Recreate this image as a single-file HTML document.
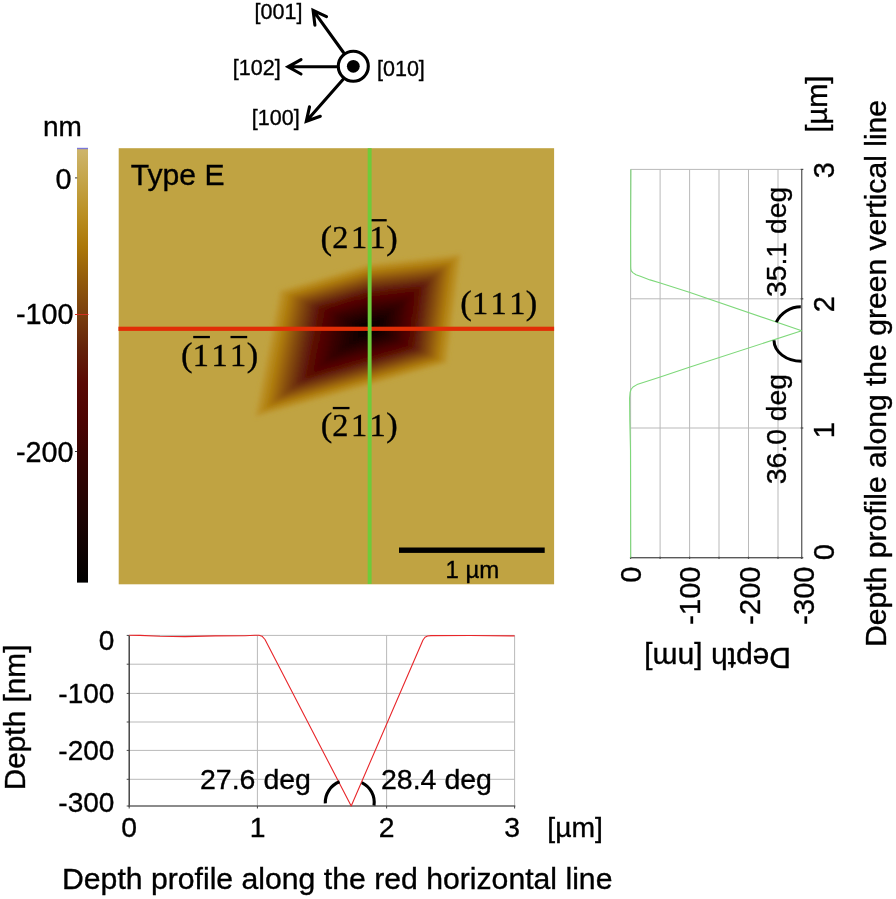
<!DOCTYPE html>
<html lang="en"><head><meta charset="utf-8"><title>AFM Type E etch pit depth profiles</title>
<style>html,body{margin:0;padding:0;background:#fff}body{width:896px;height:899px;overflow:hidden}svg{display:block}text{stroke:#000;stroke-width:.35px}</style>
</head><body>
<svg width="896" height="899" viewBox="0 0 896 899" font-family="'Liberation Sans', Arial, sans-serif" fill="#000">
<defs>
<linearGradient id="cb" x1="0" y1="0" x2="0" y2="1"><stop offset="0.0008" stop-color="#ceb56c"/><stop offset="0.0671" stop-color="#c5a64c"/><stop offset="0.1523" stop-color="#ba8f22"/><stop offset="0.2249" stop-color="#ac7808"/><stop offset="0.3039" stop-color="#925a0a"/><stop offset="0.3828" stop-color="#793e0e"/><stop offset="0.4617" stop-color="#64220a"/><stop offset="0.5407" stop-color="#5a0904"/><stop offset="0.6259" stop-color="#4c0302"/><stop offset="0.6985" stop-color="#3a0403"/><stop offset="0.8564" stop-color="#1c0403"/><stop offset="1.0000" stop-color="#000000"/></linearGradient>
<filter id="bl" x="-20%" y="-20%" width="140%" height="140%"><feGaussianBlur stdDeviation="2.1"/></filter>
<clipPath id="ic"><rect x="118.7" y="148.2" width="435.40000000000003" height="436.09999999999997"/></clipPath>
</defs>
<rect width="896" height="899" fill="#fff"/>
<path d="M343.5 52.5L313.1 10.3M326.5 16.6L313.1 10.3L314.9 25.1" fill="none" stroke="#000" stroke-width="3.1" stroke-linecap="round" stroke-linejoin="miter"/>
<path d="M338.0 66.8L288.0 66.8M301.0 59.6L288.0 66.8L301.0 74.0" fill="none" stroke="#000" stroke-width="3.1" stroke-linecap="round" stroke-linejoin="miter"/>
<path d="M343.0 79.5L306.3 121.3M309.5 106.8L306.3 121.3L320.3 116.3" fill="none" stroke="#000" stroke-width="3.1" stroke-linecap="round" stroke-linejoin="miter"/>
<circle cx="353.3" cy="66.3" r="15.0" fill="#fff" stroke="#000" stroke-width="3.1"/>
<circle cx="353.3" cy="66.3" r="6.4" fill="#000"/>
<text x="254.6" y="18.7" font-size="21.5">[001]</text>
<text x="232.8" y="75.4" font-size="21.5">[102]</text>
<text x="251.8" y="124.7" font-size="21.5">[100]</text>
<text x="377" y="75.6" font-size="21.5">[010]</text>
<rect x="77" y="148.7" width="11" height="433.90000000000003" fill="url(#cb)"/>
<rect x="77" y="147.8" width="11" height="1.4" fill="#7b78d8"/>
<text x="43" y="135.7" font-size="28">nm</text>
<text x="71.6" y="189.2" font-size="28.8" text-anchor="end">0</text>
<text x="73.6" y="324.2" font-size="28.8" text-anchor="end">-100</text>
<text x="73.6" y="461.6" font-size="28.8" text-anchor="end">-200</text>
<rect x="75" y="177.4" width="2.2" height="1" fill="#333"/>
<rect x="75" y="314" width="13.5" height="1" fill="#d03020"/>
<rect x="75" y="451" width="2.2" height="1" fill="#333"/>
<rect x="118.7" y="148.2" width="435.40000000000003" height="436.09999999999997" fill="#c0a342"/>
<g clip-path="url(#ic)"><g filter="url(#bl)">
<polygon points="279.7,290.7 369.5,264.4 461.0,254.2 446.8,363.1 255.0,416.9" fill="#be9833"/>
<polygon points="281.0,291.2 369.5,265.3 459.7,255.3 445.7,362.6 256.6,415.6" fill="#bd952d"/>
<polygon points="282.2,291.8 369.5,266.3 458.4,256.4 444.6,362.1 258.2,414.3" fill="#bb9126"/>
<polygon points="283.5,292.3 369.5,267.2 457.0,257.4 443.5,361.6 259.9,413.1" fill="#b98e21"/>
<polygon points="284.8,292.9 369.5,268.1 455.7,258.5 442.4,361.1 261.5,411.8" fill="#b78a1c"/>
<polygon points="286.1,293.4 369.5,269.0 454.4,259.5 441.3,360.6 263.2,410.6" fill="#b48618"/>
<polygon points="287.4,293.9 369.5,269.9 453.1,260.6 440.2,360.1 264.8,409.3" fill="#b28213"/>
<polygon points="288.7,294.5 369.5,270.8 451.8,261.7 439.1,359.7 266.4,408.0" fill="#af7e0e"/>
<polygon points="290.0,295.0 369.5,271.8 450.5,262.7 438.0,359.2 268.1,406.8" fill="#ad7a0a"/>
<polygon points="291.3,295.6 369.5,272.7 449.2,263.8 436.9,358.7 269.7,405.5" fill="#a97508"/>
<polygon points="292.6,296.1 369.5,273.6 447.9,264.9 435.8,358.2 271.4,404.3" fill="#a57009"/>
<polygon points="293.8,296.7 369.5,274.5 446.6,265.9 434.7,357.7 273.0,403.0" fill="#a16b09"/>
<polygon points="295.1,297.2 369.5,275.4 445.3,267.0 433.6,357.2 274.6,401.7" fill="#9d6609"/>
<polygon points="296.4,297.7 369.5,276.3 444.0,268.0 432.5,356.7 276.3,400.5" fill="#996209"/>
<polygon points="297.7,298.3 369.6,277.3 442.7,269.1 431.4,356.2 277.9,399.2" fill="#945d0a"/>
<polygon points="299.0,298.8 369.6,278.2 441.4,270.2 430.3,355.7 279.6,398.0" fill="#90580a"/>
<polygon points="300.3,299.4 369.6,279.1 440.1,271.2 429.2,355.2 281.2,396.7" fill="#8c530b"/>
<polygon points="301.6,299.9 369.6,280.0 438.8,272.3 428.1,354.7 282.8,395.4" fill="#884f0c"/>
<polygon points="302.9,300.4 369.6,280.9 437.5,273.4 427.0,354.2 284.5,394.2" fill="#844a0c"/>
<polygon points="304.1,301.0 369.6,281.8 436.2,274.4 425.9,353.7 286.1,392.9" fill="#80460d"/>
<polygon points="305.4,301.5 369.6,282.8 434.9,275.5 424.8,353.2 287.8,391.7" fill="#7c410e"/>
<polygon points="306.7,302.1 369.6,283.7 433.6,276.5 423.7,352.8 289.4,390.4" fill="#783d0e"/>
<polygon points="308.0,302.6 369.6,284.6 432.3,277.6 422.6,352.3 291.0,389.1" fill="#75380d"/>
<polygon points="309.3,303.2 369.6,285.5 431.0,278.7 421.5,351.8 292.7,387.9" fill="#71340d"/>
<polygon points="310.6,303.7 369.6,286.4 429.7,279.7 420.4,351.3 294.3,386.6" fill="#6e2f0c"/>
<polygon points="311.9,304.2 369.6,287.3 428.4,280.8 419.3,350.8 296.0,385.3" fill="#6a2a0b"/>
<polygon points="313.2,304.8 369.6,288.3 427.1,281.9 418.2,350.3 297.6,384.1" fill="#67260b"/>
<polygon points="314.4,305.3 369.6,289.2 425.8,282.9 417.1,349.8 299.3,382.8" fill="#64210a"/>
<polygon points="315.7,305.9 369.6,290.1 424.5,284.0 416.0,349.3 300.9,381.6" fill="#621d09"/>
<polygon points="317.0,306.4 369.6,291.0 423.2,285.0 414.9,348.8 302.5,380.3" fill="#611908"/>
<polygon points="318.3,306.9 369.6,291.9 421.9,286.1 413.8,348.3 304.2,379.0" fill="#5f1507"/>
<polygon points="319.6,307.5 369.6,292.8 420.6,287.2 412.7,347.8 305.8,377.8" fill="#5d1106"/>
<polygon points="320.9,308.0 369.6,293.8 419.3,288.2 411.6,347.3 307.5,376.5" fill="#5c0d05"/>
<polygon points="322.2,308.6 369.6,294.7 418.0,289.3 410.5,346.8 309.1,375.3" fill="#5a0904"/>
<polygon points="323.5,309.1 369.6,295.6 416.7,290.4 409.4,346.3 310.7,374.0" fill="#580804"/>
<polygon points="324.7,309.6 369.6,296.5 415.4,291.4 408.3,345.9 312.4,372.7" fill="#560703"/>
<polygon points="326.0,310.2 369.6,297.4 414.1,292.5 407.2,345.4 314.0,371.5" fill="#540603"/>
<polygon points="327.3,310.7 369.7,298.3 412.8,293.5 406.1,344.9 315.7,370.2" fill="#520503"/>
<polygon points="328.6,311.3 369.7,299.3 411.5,294.6 405.0,344.4 317.3,369.0" fill="#500503"/>
<polygon points="329.9,311.8 369.7,300.2 410.2,295.7 403.9,343.9 318.9,367.7" fill="#4d0402"/>
<polygon points="331.2,312.4 369.7,301.1 408.9,296.7 402.8,343.4 320.6,366.4" fill="#4b0302"/>
<polygon points="332.5,312.9 369.7,302.0 407.6,297.8 401.7,342.9 322.2,365.2" fill="#480302"/>
<polygon points="333.8,313.4 369.7,302.9 406.3,298.9 400.6,342.4 323.9,363.9" fill="#450302"/>
<polygon points="335.0,314.0 369.7,303.8 405.0,299.9 399.5,341.9 325.5,362.6" fill="#410403"/>
<polygon points="336.3,314.5 369.7,304.8 403.7,301.0 398.4,341.4 327.1,361.4" fill="#3e0403"/>
<polygon points="337.6,315.1 369.7,305.7 402.4,302.0 397.3,340.9 328.8,360.1" fill="#3b0403"/>
<polygon points="338.9,315.6 369.7,306.6 401.1,303.1 396.2,340.4 330.4,358.9" fill="#380403"/>
<polygon points="340.2,316.1 369.7,307.5 399.8,304.2 395.1,339.9 332.1,357.6" fill="#360403"/>
<polygon points="341.5,316.7 369.7,308.4 398.4,305.2 394.0,339.4 333.7,356.3" fill="#340403"/>
<polygon points="342.8,317.2 369.7,309.3 397.1,306.3 392.9,339.0 335.3,355.1" fill="#310403"/>
<polygon points="344.1,317.8 369.7,310.3 395.8,307.4 391.8,338.5 337.0,353.8" fill="#2f0403"/>
<polygon points="345.3,318.3 369.7,311.2 394.5,308.4 390.7,338.0 338.6,352.6" fill="#2c0403"/>
<polygon points="346.6,318.9 369.7,312.1 393.2,309.5 389.6,337.5 340.3,351.3" fill="#2a0403"/>
<polygon points="347.9,319.4 369.7,313.0 391.9,310.5 388.5,337.0 341.9,350.0" fill="#270403"/>
<polygon points="349.2,319.9 369.7,313.9 390.6,311.6 387.4,336.5 343.5,348.8" fill="#250403"/>
<polygon points="350.5,320.5 369.7,314.8 389.3,312.7 386.3,336.0 345.2,347.5" fill="#230403"/>
<polygon points="351.8,321.0 369.7,315.8 388.0,313.7 385.2,335.5 346.8,346.3" fill="#200403"/>
<polygon points="353.1,321.6 369.7,316.7 386.7,314.8 384.1,335.0 348.5,345.0" fill="#1e0403"/>
<polygon points="354.4,322.1 369.7,317.6 385.4,315.9 383.0,334.5 350.1,343.7" fill="#1b0403"/>
<polygon points="355.6,322.6 369.8,318.5 384.1,316.9 381.9,334.0 351.8,342.5" fill="#190403"/>
<polygon points="356.9,323.2 369.8,319.4 382.8,318.0 380.8,333.5 353.4,341.2" fill="#160302"/>
<polygon points="358.2,323.7 369.8,320.3 381.5,319.0 379.7,333.0 355.0,339.9" fill="#140302"/>
<polygon points="359.5,324.3 369.8,321.3 380.2,320.1 378.6,332.5 356.7,338.7" fill="#110202"/>
<polygon points="360.8,324.8 369.8,322.2 378.9,321.2 377.5,332.1 358.3,337.4" fill="#0f0202"/>
<polygon points="362.1,325.4 369.8,323.1 377.6,322.2 376.4,331.6 360.0,336.2" fill="#0c0201"/>
<polygon points="363.4,325.9 369.8,324.0 376.3,323.3 375.3,331.1 361.6,334.9" fill="#0a0101"/>
<polygon points="364.7,326.4 369.8,324.9 375.0,324.4 374.2,330.6 363.2,333.6" fill="#070101"/>
<polygon points="365.9,327.0 369.8,325.8 373.7,325.4 373.1,330.1 364.9,332.4" fill="#050101"/>
<polygon points="367.2,327.5 369.8,326.8 372.4,326.5 372.0,329.6 366.5,331.1" fill="#030000"/>
<polygon points="368.5,328.1 369.8,327.7 371.1,327.5 370.9,329.1 368.2,329.9" fill="#000000"/>
</g></g>
<rect x="118.4" y="326.7" width="435.70000000000005" height="4.2" fill="#e12e06"/>
<text x="130.8" y="185.0" font-size="30.1">Type E</text>
<rect x="399" y="547.5" width="145.7" height="5.4" fill="#000"/>
<text x="445.5" y="578.0" font-size="24">1 µm</text>
<text y="248.1" text-anchor="middle" font-family="'Liberation Serif', 'Times New Roman', serif" font-size="32.3"><tspan x="326.3" y="248.5" font-size="34.5">(</tspan><tspan x="340.3" y="248.1">2</tspan><tspan x="359.0" y="248.1">1</tspan><tspan x="377.6" y="248.1">1</tspan><tspan x="391.9" y="248.5" font-size="34.5">)</tspan></text>
<rect x="370.0" y="219.1" width="16.7" height="2.3" fill="#000"/>
<text y="313.75" text-anchor="middle" font-family="'Liberation Serif', 'Times New Roman', serif" font-size="32.3"><tspan x="466.0" y="314.1" font-size="34.5">(</tspan><tspan x="480.0" y="313.75">1</tspan><tspan x="498.7" y="313.75">1</tspan><tspan x="517.3" y="313.75">1</tspan><tspan x="531.6" y="314.1" font-size="34.5">)</tspan></text>
<text y="365.7" text-anchor="middle" font-family="'Liberation Serif', 'Times New Roman', serif" font-size="32.3"><tspan x="186.8" y="366.1" font-size="34.5">(</tspan><tspan x="200.8" y="365.7">1</tspan><tspan x="219.5" y="365.7">1</tspan><tspan x="238.1" y="365.7">1</tspan><tspan x="252.4" y="366.1" font-size="34.5">)</tspan></text>
<rect x="193.2" y="335.9" width="16.7" height="2.3" fill="#000"/>
<rect x="230.5" y="335.9" width="16.7" height="2.3" fill="#000"/>
<text y="436.0" text-anchor="middle" font-family="'Liberation Serif', 'Times New Roman', serif" font-size="32.3"><tspan x="326.4" y="436.4" font-size="34.5">(</tspan><tspan x="340.4" y="436.0">2</tspan><tspan x="359.1" y="436.0">1</tspan><tspan x="377.7" y="436.0">1</tspan><tspan x="392.0" y="436.4" font-size="34.5">)</tspan></text>
<rect x="332.8" y="406.9" width="16.7" height="2.3" fill="#000"/>
<rect x="367.7" y="148.2" width="3.9" height="435.8" fill="#6ecb3a"/>
<rect x="129.2" y="634.9" width="385.40000000000003" height="1" fill="#bababa"/>
<rect x="129.2" y="663.7" width="385.40000000000003" height="1" fill="#bababa"/>
<rect x="129.2" y="692.9" width="385.40000000000003" height="1" fill="#bababa"/>
<rect x="129.2" y="721.5" width="385.40000000000003" height="1" fill="#bababa"/>
<rect x="129.2" y="749.9" width="385.40000000000003" height="1" fill="#bababa"/>
<rect x="129.2" y="778.8" width="385.40000000000003" height="1" fill="#bababa"/>
<rect x="256.9" y="635.4" width="1" height="170.60000000000002" fill="#bababa"/>
<rect x="386.1" y="635.4" width="1" height="170.60000000000002" fill="#bababa"/>
<rect x="514.1" y="635.4" width="1" height="170.60000000000002" fill="#bababa"/>
<rect x="128.5" y="635.4" width="1.4" height="171.3" fill="#3a3a3a"/>
<rect x="128.5" y="805.3" width="386.8" height="1.4" fill="#5a5a5a"/>
<rect x="126.69999999999999" y="634.9" width="2.5" height="1" fill="#484848"/>
<rect x="126.69999999999999" y="663.7" width="2.5" height="1" fill="#484848"/>
<rect x="126.69999999999999" y="692.9" width="2.5" height="1" fill="#484848"/>
<rect x="126.69999999999999" y="721.5" width="2.5" height="1" fill="#484848"/>
<rect x="126.69999999999999" y="749.9" width="2.5" height="1" fill="#484848"/>
<rect x="126.69999999999999" y="778.8" width="2.5" height="1" fill="#484848"/>
<rect x="126.69999999999999" y="805.5" width="2.5" height="1" fill="#484848"/>
<rect x="128.7" y="806.0" width="1" height="2.5" fill="#484848"/>
<rect x="256.9" y="806.0" width="1" height="2.5" fill="#484848"/>
<rect x="386.1" y="806.0" width="1" height="2.5" fill="#484848"/>
<rect x="514.1" y="806.0" width="1" height="2.5" fill="#484848"/>
<polyline fill="none" stroke="#e8262a" stroke-width="1.1" stroke-linejoin="round" points="129.2,635.2 140,635.4 160,636.2 185,636.6 215,635.9 245,635.7 255,635.2 259,635.3 262,636.2 265,639.5 351.2,806 423,640 425,637.2 427.5,636.0 431,635.6 470,635.5 514.6,635.9"/>
<path d="M325.3 803.4 A 22 22 0 0 1 339.6 781.8" fill="none" stroke="#000" stroke-width="3.1"/>
<path d="M361.8 782.6 A 22 22 0 0 1 374.0 805.5" fill="none" stroke="#000" stroke-width="3.1"/>
<text x="200" y="788.8" font-size="28.5">27.6 deg</text>
<text x="381" y="788.8" font-size="28.5">28.4 deg</text>
<text x="114.4" y="649.9" font-size="28" text-anchor="end">0</text>
<text x="114.4" y="702.5" font-size="28" text-anchor="end">-100</text>
<text x="114.4" y="759.7" font-size="28" text-anchor="end">-200</text>
<text x="114.4" y="812.2" font-size="28" text-anchor="end">-300</text>
<text x="129.0" y="837.2" font-size="28.3" text-anchor="middle">0</text>
<text x="257.6" y="837.2" font-size="28.3" text-anchor="middle">1</text>
<text x="386.6" y="837.2" font-size="28.3" text-anchor="middle">2</text>
<text x="512" y="837.2" font-size="28.3" text-anchor="middle">3</text>
<text x="547.3" y="837.2" font-size="28.3">[µm]</text>
<text transform="translate(24.5,790.3) rotate(-90)" font-size="29.8">Depth [nm]</text>
<text x="62" y="888.5" font-size="30.2">Depth profile along the red horizontal line</text>
<rect x="630.1" y="169.4" width="1" height="388.30000000000007" fill="#bababa"/>
<rect x="659.6" y="169.4" width="1" height="388.30000000000007" fill="#bababa"/>
<rect x="689.1" y="169.4" width="1" height="388.30000000000007" fill="#bababa"/>
<rect x="718.5" y="169.4" width="1" height="388.30000000000007" fill="#bababa"/>
<rect x="748.0" y="169.4" width="1" height="388.30000000000007" fill="#bababa"/>
<rect x="777.5" y="169.4" width="1" height="388.30000000000007" fill="#bababa"/>
<rect x="630.6" y="427.5" width="171.10000000000002" height="1" fill="#bababa"/>
<rect x="630.6" y="298.3" width="171.10000000000002" height="1" fill="#bababa"/>
<rect x="630.6" y="168.9" width="171.10000000000002" height="1" fill="#bababa"/>
<rect x="801.0" y="169.4" width="1.4" height="389.00000000000006" fill="#6a6a6a"/>
<rect x="629.9" y="557.0" width="172.50000000000003" height="1.4" fill="#5a5a5a"/>
<rect x="630.0" y="556.7" width="1.2" height="2.2" fill="#4a4a4a"/>
<rect x="659.5" y="556.7" width="1.2" height="2.2" fill="#4a4a4a"/>
<rect x="689.0" y="556.7" width="1.2" height="2.2" fill="#4a4a4a"/>
<rect x="718.4" y="556.7" width="1.2" height="2.2" fill="#4a4a4a"/>
<rect x="747.9" y="556.7" width="1.2" height="2.2" fill="#4a4a4a"/>
<rect x="777.4" y="556.7" width="1.2" height="2.2" fill="#4a4a4a"/>
<rect x="801.1" y="556.7" width="1.2" height="2.2" fill="#4a4a4a"/>
<rect x="800.7" y="557.1" width="2.6" height="1.2" fill="#4a4a4a"/>
<rect x="800.7" y="427.4" width="2.6" height="1.2" fill="#4a4a4a"/>
<rect x="800.7" y="298.2" width="2.6" height="1.2" fill="#4a4a4a"/>
<rect x="800.7" y="168.8" width="2.6" height="1.2" fill="#4a4a4a"/>
<polyline fill="none" stroke="#7ed87a" stroke-width="1.1" stroke-linejoin="round" points="630.9,169.4 630.6,230 630.7,266 630.8,268.8 631.3,270.8 632.8,272.6 636,274.7 641,276.6 650,279.9 659.5,282.8 689.3,292.3 801.7,330.8 689.3,367.3 659.5,377.3 637,384.6 633,387 631,389.5 630.1,392.5 629.6,398 629.8,420 630.5,450 630.7,557.7"/>
<path d="M800.8 306.8 A 27.2 27.2 0 0 0 776.3 322.2" fill="none" stroke="#000" stroke-width="3.0"/>
<path d="M774 340.3 A 27.4 21 0 0 0 801.4 361.2" fill="none" stroke="#000" stroke-width="3.0"/>
<text transform="translate(786.3,297) rotate(-90)" font-size="28.3" text-anchor="start">35.1 deg</text>
<text transform="translate(786.3,484.2) rotate(-90)" font-size="28.3" text-anchor="start">36.0 deg</text>
<text transform="translate(641.1,566.6) rotate(-90)" font-size="29" text-anchor="end">0</text>
<text transform="translate(700.1,566.6) rotate(-90)" font-size="29" text-anchor="end">-100</text>
<text transform="translate(759.6,566.6) rotate(-90)" font-size="29" text-anchor="end">-200</text>
<text transform="translate(813.6,566.6) rotate(-90)" font-size="29" text-anchor="end">-300</text>
<text transform="translate(834.3,552.2) rotate(-90)" font-size="29" text-anchor="middle">0</text>
<text transform="translate(834.3,430.2) rotate(-90)" font-size="29" text-anchor="middle">1</text>
<text transform="translate(834.3,304.2) rotate(-90)" font-size="29" text-anchor="middle">2</text>
<text transform="translate(834.3,170.1) rotate(-90)" font-size="29" text-anchor="middle">3</text>
<text transform="translate(826.6,132.6) rotate(-90)" font-size="29" text-anchor="start">[µm]</text>
<text transform="translate(791,647.6) rotate(180)" font-size="30.0" text-anchor="start">Depth [nm]</text>
<text transform="translate(886.2,647.0) rotate(-90)" font-size="30.1" text-anchor="start">Depth profile along the green vertical line</text>
</svg>
</body></html>
